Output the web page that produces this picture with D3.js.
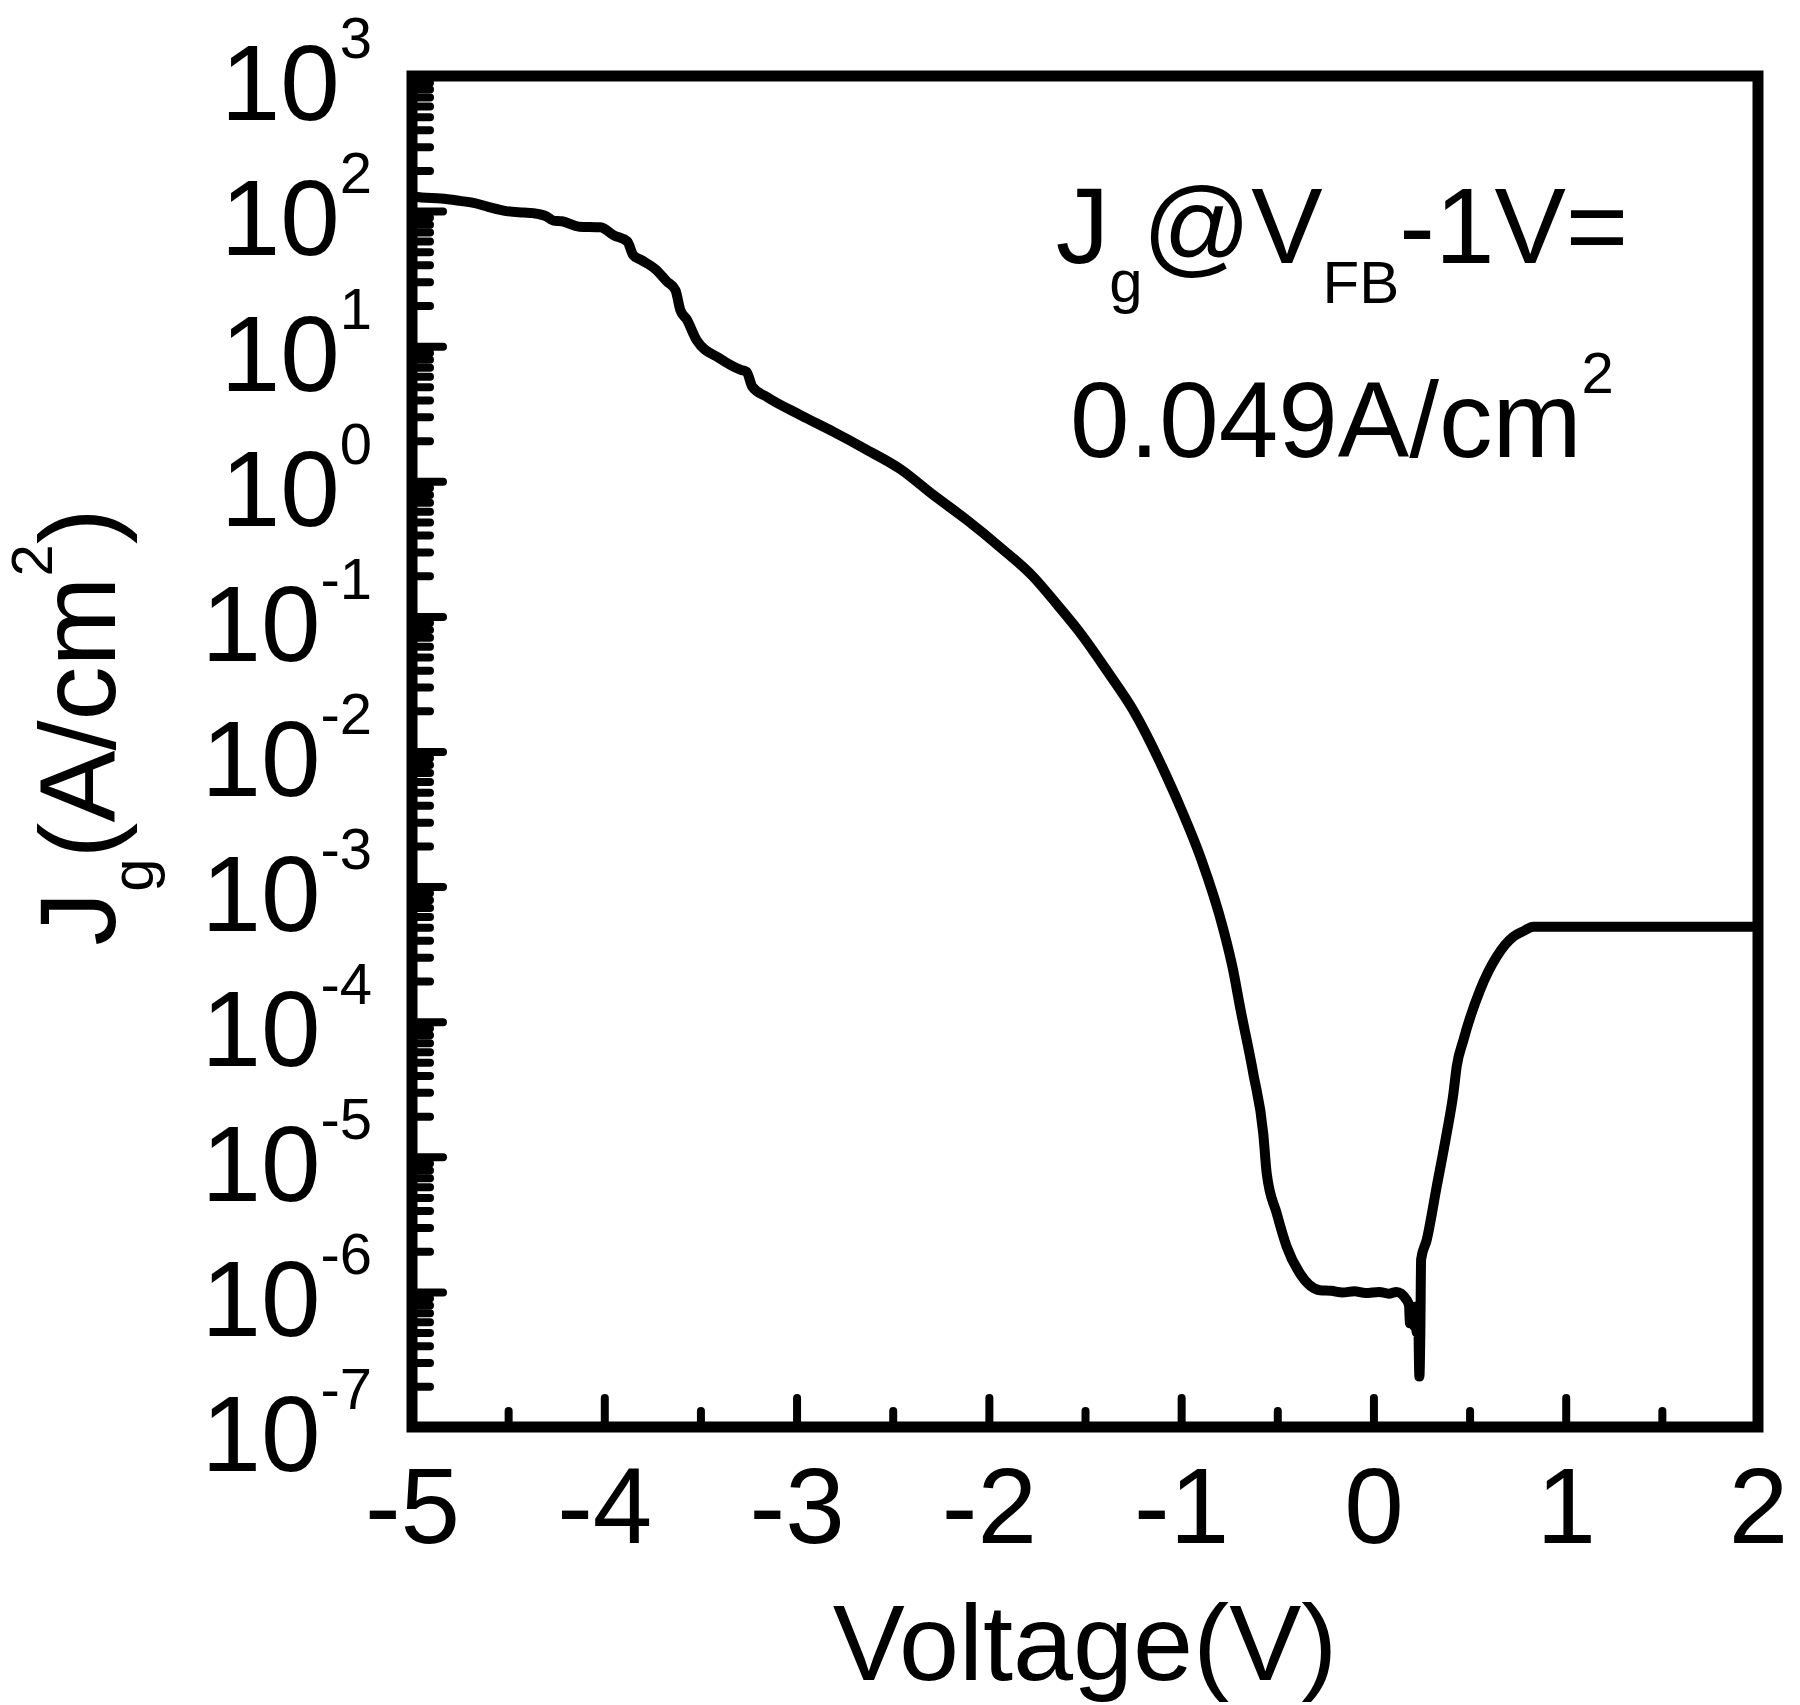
<!DOCTYPE html>
<html>
<head>
<meta charset="utf-8">
<script src="https://cdn.jsdelivr.net/npm/d3@7"></script>
<style>
  body { margin: 0; background: #fff; }
  svg text { font-family: "Liberation Sans", Arial, Helvetica, sans-serif; fill: #000; }
</style>
</head>
<body>
<div class="mainDiv"></div>
<script>
// gate current density vs voltage
const voltage = [
  -5.00, -4.95, -4.85, -4.75, -4.68, -4.60, -4.51, -4.42, -4.37, -4.30,
  -4.265, -4.22, -4.13, -4.02, -3.95, -3.88, -3.85, -3.81, -3.73, -3.675,
  -3.63, -3.605, -3.57, -3.52, -3.40, -3.29, -3.26, -3.23, -3.155, -2.98,
  -2.81, -2.635, -2.46, -2.29, -2.115, -1.94, -1.77, -1.64, -1.51, -1.38,
  -1.25, -1.075, -0.99, -0.90, -0.78, -0.73, -0.694, -0.625, -0.573, -0.555,
  -0.503, -0.451, -0.382, -0.278, -0.22, -0.16, -0.10, -0.04, 0.03, 0.08,
  0.12, 0.173, 0.185, 0.19, 0.20, 0.21, 0.216, 0.225, 0.232, 0.239,
  0.244, 0.248, 0.277, 0.329, 0.381, 0.416, 0.433, 0.468, 0.555, 0.641,
  0.728, 0.78, 0.832, 1.074, 2.00
];
const current = [
  129, 126, 124, 119, 115, 107, 100, 97.7, 96.6, 91.2,
  85.1, 84.1, 76.7, 75.9, 66.1, 59.6, 47.3, 43.6, 36.7, 30.2,
  26.0, 18.6, 15.7, 11.1, 8.13, 6.68, 6.46, 5.01, 4.22, 3.09,
  2.33, 1.71, 1.23, 0.794, 0.518, 0.324, 0.197, 0.120, 0.0708, 0.0385,
  0.0203, 0.00652, 0.00347, 0.00166, 4.79e-4, 2.42e-4, 1.29e-4, 4.15e-5, 1.49e-5, 7.55e-6,
  3.82e-6, 2.16e-6, 1.37e-6, 1.03e-6, 1.02e-6, 9.9e-7, 1.01e-6, 9.8e-7, 1.0e-6, 9.7e-7,
  1.0e-6, 8.71e-7, 7.94e-7, 5.85e-7, 7.59e-7, 5.62e-7, 7.78e-7, 5.01e-7, 7.08e-7, 2.36e-7,
  5.01e-7, 1.74e-6, 2.42e-6, 6.01e-6, 1.49e-5, 2.95e-5, 4.65e-5, 7.31e-5, 1.72e-4, 3.03e-4,
  4.26e-4, 4.68e-4, 5.05e-4, 5.05e-4, 5.05e-4
];
const xTicks = [-5, -4, -3, -2, -1, 0, 1, 2];
const xMinor = [-4.5, -3.5, -2.5, -1.5, -0.5, 0.5, 1.5];
const yExponents = [3, 2, 1, 0, -1, -2, -3, -4, -5, -6, -7];

const W = 1800, H = 1705;
const margin = { top: 76, right: 42, bottom: 278, left: 412 };
const svg = d3.select('.mainDiv').append('svg')
  .attr('width', W).attr('height', H);

const x = d3.scaleLinear().domain([-5, 2])
  .range([margin.left, W - margin.right]);
const y = d3.scaleLog().domain([1e-7, 1e3])
  .range([H - margin.bottom, margin.top]);

const fontBig = 107;
const fontSmall = 58;

// minor y ticks 2..9 per decade
const yMinor = [];
for (let e = -7; e < 3; e++) {
  for (let m = 2; m <= 9; m++) yMinor.push(m * Math.pow(10, e));
}
const yMajor = yExponents.map(e => Math.pow(10, e));

// bottom axis
const xAxis = svg.append('g').attr('class', 'xAxis')
  .attr('transform', `translate(0,${y.range()[0]})`)
  .call(d3.axisBottom(x).tickValues(xTicks).tickSize(-29).tickPadding(40)
    .tickFormat(d => d3.format('d')(d).replace('−', '-')));
svg.append('g').attr('class', 'xMinor')
  .attr('transform', `translate(0,${y.range()[0]})`)
  .call(d3.axisBottom(x).tickValues(xMinor).tickSize(-16).tickFormat(''));

// left axis
const yAxis = svg.append('g').attr('class', 'yAxis')
  .attr('transform', `translate(${x.range()[0]},0)`)
  .call(d3.axisLeft(y).tickValues(yMajor).tickSize(-31).tickPadding(40)
    .tickFormat(''));
svg.append('g').attr('class', 'yMinor')
  .attr('transform', `translate(${x.range()[0]},0)`)
  .call(d3.axisLeft(y).tickValues(yMinor).tickSize(-18).tickFormat(''));

svg.selectAll('.domain').remove();
svg.selectAll('.tick line')
  .attr('stroke', '#000').attr('stroke-width', 8).attr('stroke-linecap', 'round');

xAxis.selectAll('text')
  .attr('font-size', fontBig).attr('font-family', null);

// y labels as 10^n
yAxis.selectAll('.tick text').each(function (d) {
  const t = d3.select(this)
    .attr('font-size', fontBig).attr('font-family', null)
    .attr('dy', '0.41em').text(null);
  t.append('tspan').text('10');
  t.append('tspan').attr('font-size', fontSmall).attr('dy', -62)
    .text(String(Math.round(Math.log10(d))));
});

// curve
const points = voltage.map((v, i) => [v, current[i]]);
const line = d3.line().curve(d3.curveMonotoneX)
  .x(d => x(d[0])).y(d => y(d[1]));
svg.append('path')
  .datum(points)
  .attr('d', line)
  .attr('fill', 'none')
  .attr('stroke', '#000')
  .attr('stroke-width', 10)
  .attr('stroke-linejoin', 'round')
  .attr('stroke-linecap', 'round');

// frame
svg.append('rect')
  .attr('x', x.range()[0]).attr('y', y.range()[1])
  .attr('width', x.range()[1] - x.range()[0])
  .attr('height', y.range()[0] - y.range()[1])
  .attr('fill', 'none').attr('stroke', '#000').attr('stroke-width', 11);

// axis titles
svg.append('text')
  .attr('x', (x.range()[0] + x.range()[1]) / 2)
  .attr('y', 1680)
  .attr('text-anchor', 'middle')
  .attr('font-size', 108)
  .text('Voltage(V)');

const yTitle = svg.append('text')
  .attr('transform', 'translate(115,727) rotate(-90)')
  .attr('text-anchor', 'middle')
  .attr('font-size', 108);
yTitle.append('tspan').text('J');
yTitle.append('tspan').attr('font-size', 60).attr('dy', 38).text('g');
yTitle.append('tspan').attr('dy', -38).text('(A/cm');
yTitle.append('tspan').attr('font-size', fontSmall).attr('dy', -63).text('2');
yTitle.append('tspan').attr('dy', 63).text(')');

// annotation
const note1 = svg.append('text')
  .attr('x', 1342).attr('y', 263)
  .attr('text-anchor', 'middle').attr('font-size', fontBig);
note1.append('tspan').text('J');
note1.append('tspan').attr('font-size', 60).attr('dy', 39).text('g');
note1.append('tspan').attr('dy', -39).text('@V');
note1.append('tspan').attr('font-size', 60).attr('dy', 40).text('FB');
note1.append('tspan').attr('dy', -40).text('-1V=');

const note2 = svg.append('text')
  .attr('x', 1342).attr('y', 457)
  .attr('text-anchor', 'middle').attr('font-size', fontBig);
note2.append('tspan').text('0.049A/cm');
note2.append('tspan').attr('font-size', fontSmall).attr('dy', -64).text('2');
</script>
</body>
</html>
